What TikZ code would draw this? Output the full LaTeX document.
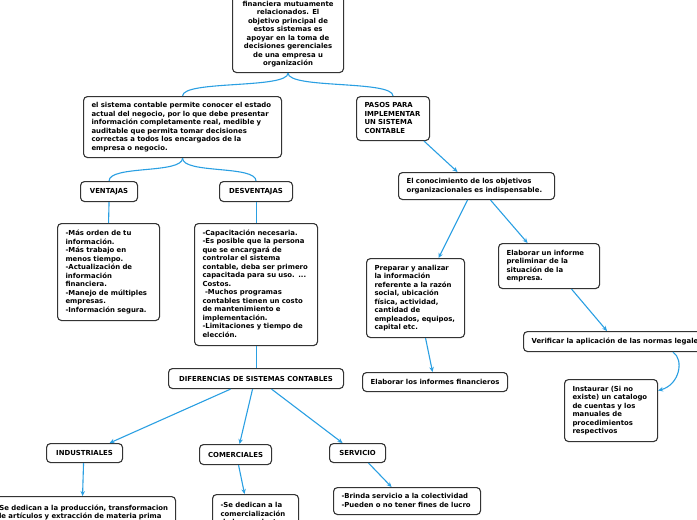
\documentclass[tikz,border=0pt]{standalone}
\usepackage{fontspec}
\setmainfont{DejaVu Sans}
\usetikzlibrary{arrows.meta,calc}
\definecolor{conn}{HTML}{2A9FE2}
\definecolor{edge}{HTML}{333333}
\newcommand{\tl}[1]{\begin{tabular}{@{}l@{}}#1\end{tabular}}
\newcommand{\tc}[1]{\begin{tabular}{@{}c@{}}#1\end{tabular}}
\begin{document}
\begin{tikzpicture}[x=1pt,y=-1pt,
  box/.style={draw=edge,line width=1.1pt,rounded corners=4pt,fill=white,
    inner xsep=8pt,inner ysep=0pt,anchor=north west,
    font=\fontsize{6.9}{8.5}\selectfont\bfseries},
  lbox/.style={box,align=left},
  link/.style={draw=conn,line width=1.1pt},
  arr/.style={link,-{Stealth[length=5pt,width=4.5pt]}}]
\useasboundingbox (0,0) rectangle (697,520);
\clip (0,0) rectangle (697,520);

% nodes
\node[box,minimum width=111pt,minimum height=77pt] (top) at (232,-5)
  {\tc{financiera mutuamente\\relacionados. El\\objetivo principal de\\estos sistemas es\\apoyar en la toma de\\decisiones gerenciales\\de una empresa u\\organización}};
\node[lbox,text width=182pt,minimum height=61pt] (sis) at (83,96)
  {\tl{el sistema contable permite conocer el estado\\actual del negocio, por lo que debe presentar\\información completamente real, medible y\\auditable que permita tomar decisiones\\correctas a todos los encargados de la\\empresa o negocio.}};
\node[lbox,text width=57pt,minimum height=44pt] (pasos) at (356,96)
  {\tl{PASOS PARA\\IMPLEMENTAR\\UN SISTEMA\\CONTABLE}};
\node[box,minimum width=57pt,minimum height=20pt] (vent) at (80,181) {VENTAJAS};
\node[box,minimum width=73pt,minimum height=20pt] (desv) at (219,181) {DESVENTAJAS};
\node[lbox,text width=86pt,minimum height=97pt] (ventl) at (57,223)
  {\tl{-Más orden de tu\\información.\\-Más trabajo en\\menos tiempo.\\-Actualización de\\información\\financiera.\\-Manejo de múltiples\\empresas.\\-Información segura.}};
\node[lbox,text width=107pt,minimum height=122pt] (desvl) at (194,223)
  {\tl{-Capacitación necesaria.\\-Es posible que la persona\\que se encargará de\\controlar el sistema\\contable, deba ser primero\\capacitada para su uso. ...\\Costos.\\\hspace{2.5pt}-Muchos programas\\contables tienen un costo\\de mantenimiento e\\implementación.\\-Limitaciones y tiempo de\\elección.}};
\node[box,minimum width=175pt,minimum height=20pt] (dif) at (168,368) {DIFERENCIAS DE SISTEMAS CONTABLES};
\node[box,minimum width=76pt,minimum height=19pt] (ind) at (46,443) {INDUSTRIALES};
\node[box,minimum width=72pt,minimum height=20pt] (com) at (199,444) {COMERCIALES};
\node[box,minimum width=56pt,minimum height=19pt] (serv) at (329,443) {SERVICIO};
\node[lbox,text width=171pt,minimum height=32pt] (indl) at (-12,496)
  {\tl{-Se dedican a la producción, transformacion\\de artículos y extracción de materia prima}};
\node[lbox,text width=70pt,minimum height=40pt] (coml) at (212,494)
  {\tl{-Se dedican a la\\comercialización\\de los productos}};
\node[lbox,text width=131pt,minimum height=27pt] (servl) at (333,487)
  {\tl{-Brinda servicio a la colectividad\\-Pueden o no tener fines de lucro}};
\node[lbox,text width=140pt,minimum height=27pt] (con) at (398,172)
  {\tl{El conocimiento de los objetivos\\organizacionales es indispensable.}};
\node[lbox,text width=82pt,minimum height=79pt] (prep) at (366,258)
  {\tl{Preparar y analizar\\la información\\referente a la razón\\social, ubicación\\física, actividad,\\cantidad de\\empleados, equipos,\\capital etc.}};
\node[lbox,text width=85pt,minimum height=45pt] (elab) at (498,243)
  {\tl{Elaborar un informe\\preliminar de la\\situación de la\\empresa.}};
\node[box,minimum height=20pt] (verif) at (523,331) {Verificar la aplicación de las normas legales};
\node[lbox,text width=77pt,minimum height=62pt] (inst) at (564,379)
  {\tl{Instaurar (Si no\\existe) un catalogo\\de cuentas y los\\manuales de\\procedimientos\\respectivos}};
\node[box,minimum width=145pt,minimum height=19pt] (inf) at (362,372) {Elaborar los informes financieros};

% curved branches
\draw[link] (top.south) .. controls +(0,16) and +(0,-16) .. (sis.north);
\draw[link] (top.south) .. controls +(0,16) and +(0,-16) .. (pasos.north);
\draw[link] (sis.south) .. controls +(0,16) and +(0,-16) .. (vent.north);
\draw[link] (sis.south) .. controls +(0,16) and +(0,-16) .. (desv.north);
% straight lines
\draw[link] (vent.south) -- (ventl.north);
\draw[link] (desv.south) -- (desvl.north);
\draw[link] (desvl.south) -- (dif.north);
% arrows
\draw[arr] ($(pasos.south)+(31,0)$) -- ($(con.north)+(-19,0)$);
\draw[arr] ($(con.south)+(-9,0)$) -- ($(prep.north)+(23,0)$);
\draw[arr] ($(con.south)+(14,0)$) -- ($(elab.north)+(-21.5,0)$);
\draw[arr] ($(elab.south)+(22.5,0)$) -- ($(verif.north west)+(84,0)$);
\draw[arr] ($(verif.south west)+(150,0)$) .. controls +(11,7) and +(22,-6) .. ($(inst.east)+(0,-20)$);
\draw[arr] ($(prep.south)+(10,0)$) -- ($(inf.north)+(-2.5,0)$);
\draw[arr] ($(dif.south)+(-25.5,0)$) -- ($(ind.north)+(25,0)$);
\draw[arr] ($(dif.south)+(-3.5,0)$) -- ($(com.north)+(4,0)$);
\draw[arr] ($(dif.south)+(15.5,0)$) -- ($(serv.north)+(-15,0)$);
\draw[arr] ($(ind.south)+(-1,0)$) -- ($(indl.north)+(0.5,0)$);
\draw[arr] ($(com.south)+(3,0)$) -- ($(coml.north)+(-11,0)$);
\draw[arr] ($(serv.south)+(11,0)$) -- ($(servl.north)+(-15.5,0)$);
\end{tikzpicture}
\end{document}
